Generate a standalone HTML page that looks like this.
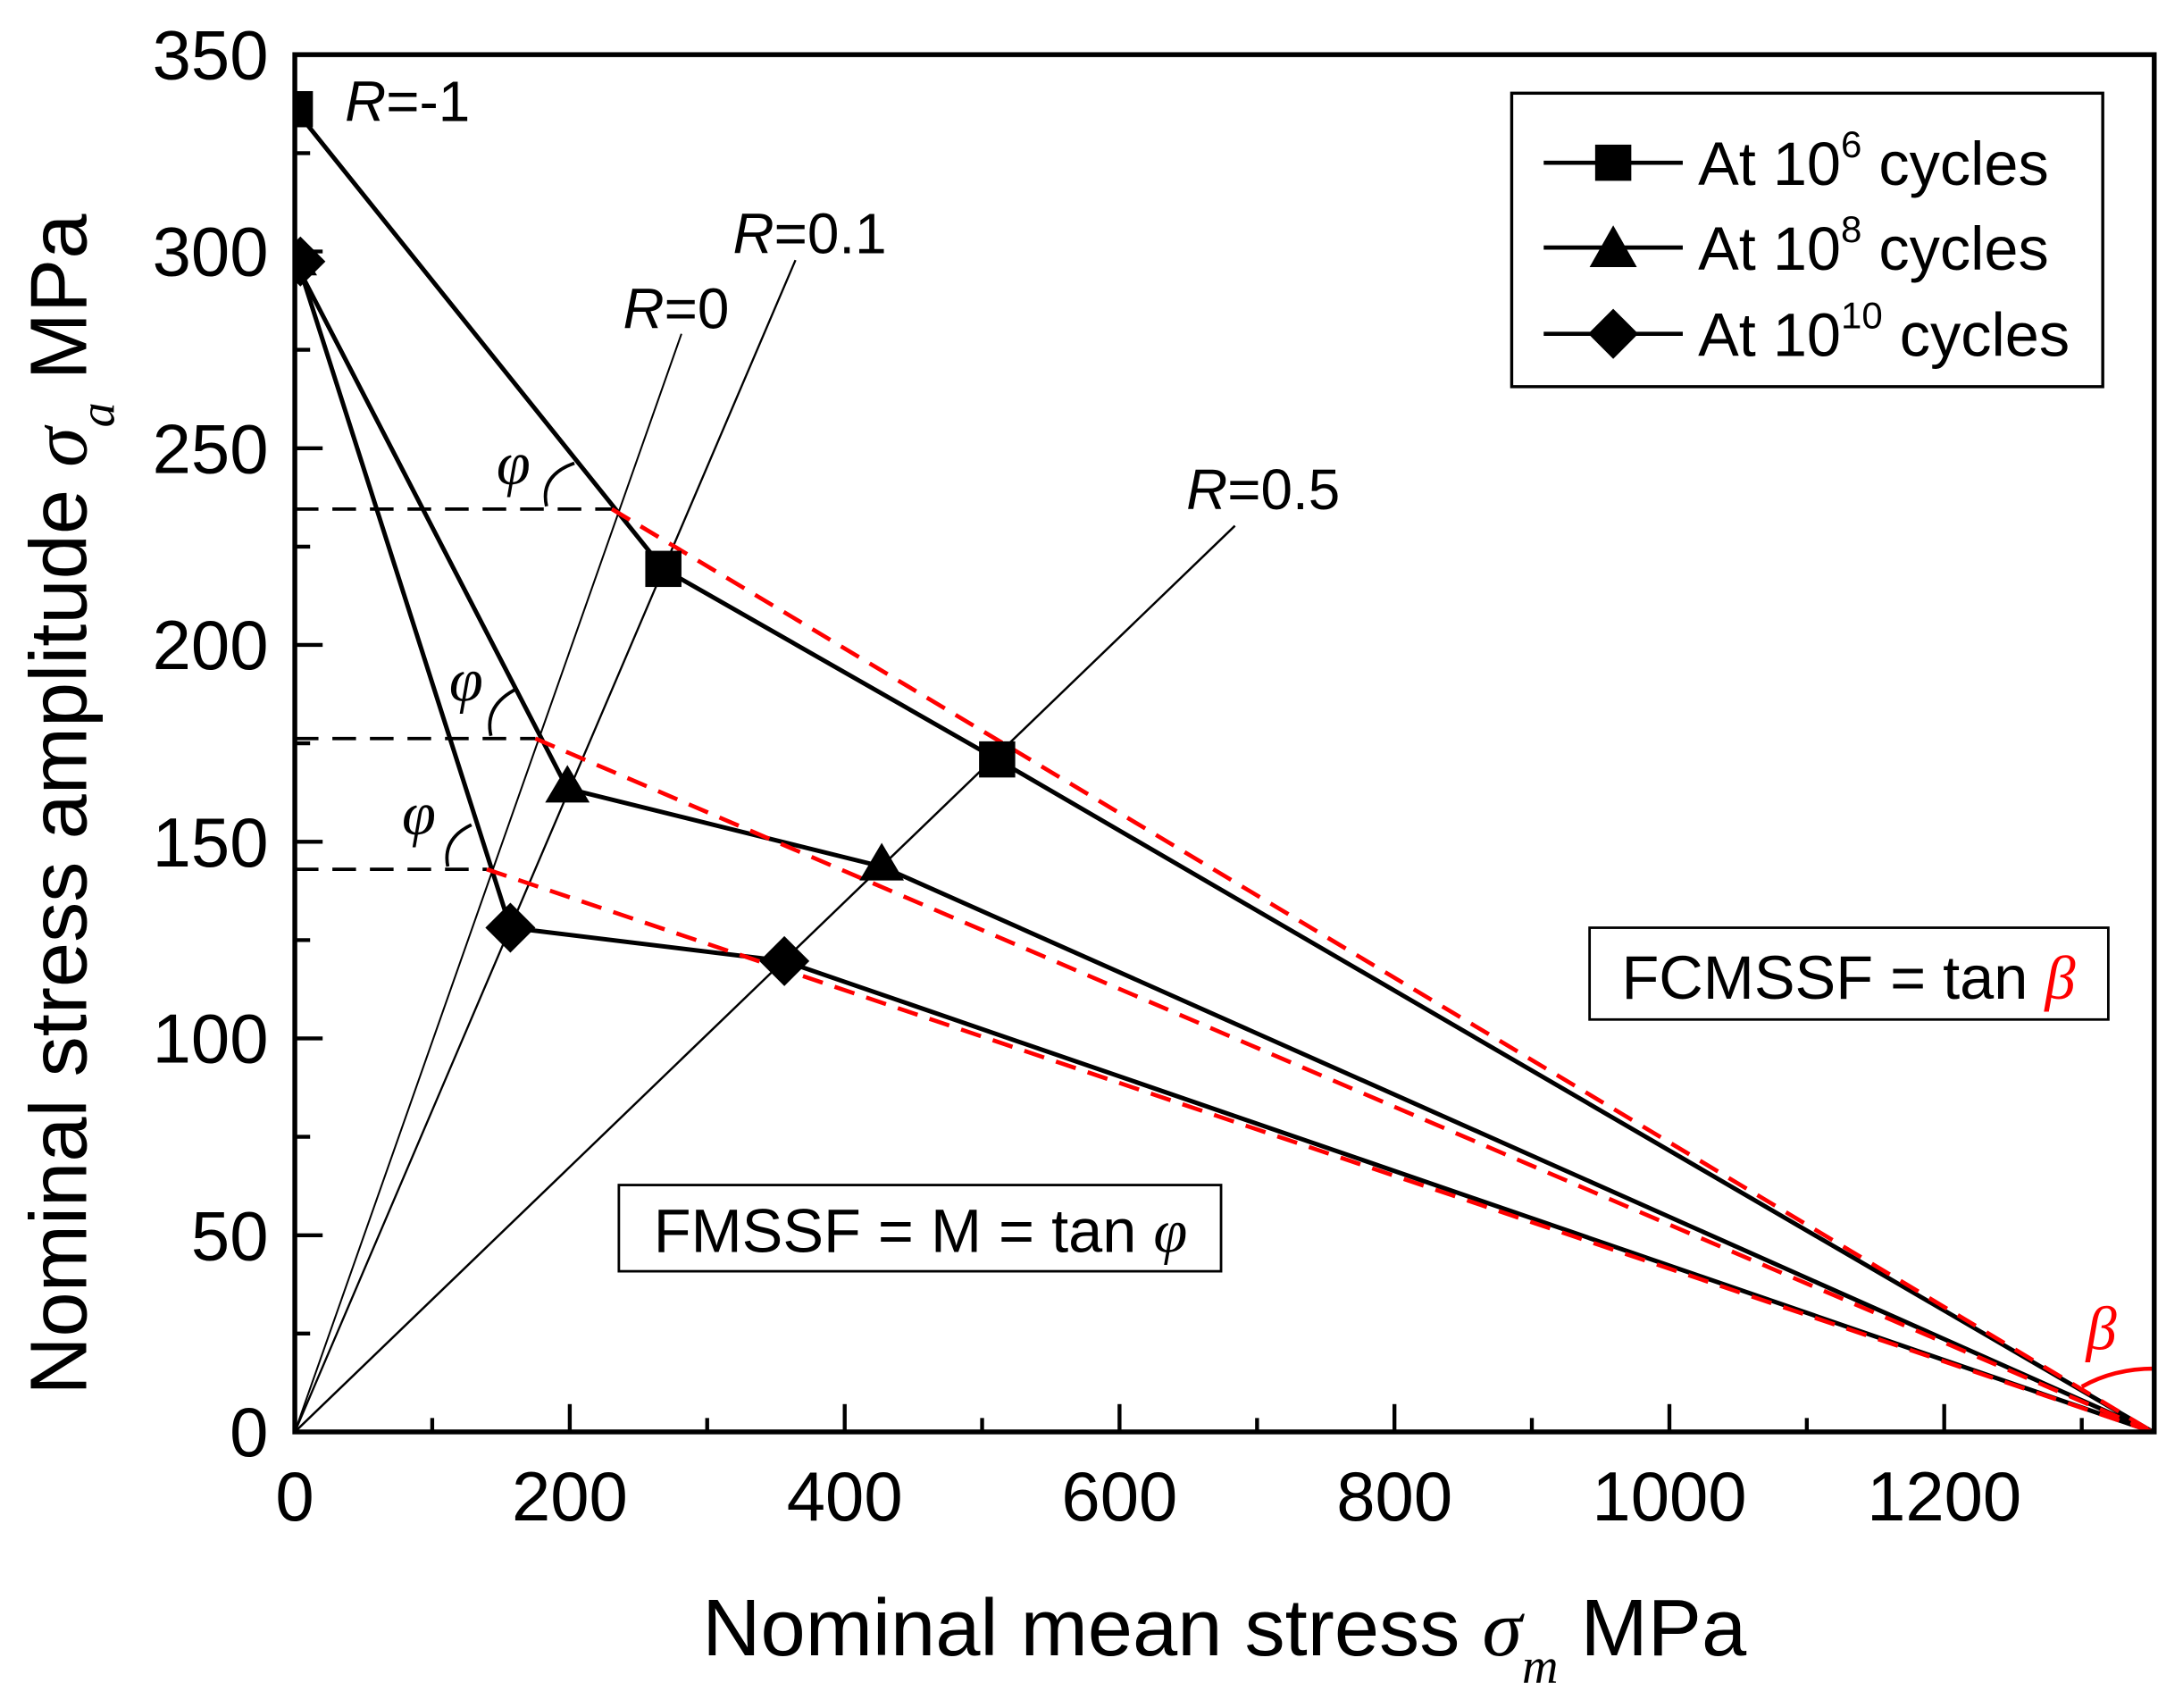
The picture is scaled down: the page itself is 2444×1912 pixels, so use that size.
<!DOCTYPE html>
<html><head><meta charset="utf-8"><style>html,body{margin:0;padding:0;background:#fff}svg{display:block}</style></head>
<body>
<svg width="2444" height="1912" viewBox="0 0 1569.7 1228" preserveAspectRatio="none" xmlns="http://www.w3.org/2000/svg" font-family="Liberation Sans, Arial, sans-serif">
<defs><clipPath id="c"><rect x="212" y="39.3" width="1337" height="990.2"/></clipPath></defs>
<rect width="1569.7" height="1228" fill="#fff"/>
<g clip-path="url(#c)">
<g stroke="#000" fill="none">
<line x1="212" y1="1029.5" x2="490" y2="240" stroke-width="1.3"/>
<line x1="212" y1="1029.5" x2="572" y2="187" stroke-width="1.5"/>
<line x1="212" y1="1029.5" x2="888" y2="378" stroke-width="1.6"/>
</g>
<g stroke="#000" stroke-width="2.4" stroke-dasharray="17,10" fill="none">
<line x1="212" y1="366" x2="440" y2="366"/>
<line x1="212" y1="531" x2="385" y2="531"/>
<line x1="212" y1="625" x2="350" y2="625"/>
</g>
<g stroke="#000" stroke-width="3.2" fill="none" stroke-linejoin="round">
<polyline points="212,78.5 477,409 717,546 1548,1029.5"/>
<polyline points="212,188 408,567 634,623 1548,1029.5"/>
<polyline points="214,188 367,667 564,691 1548,1029.5"/>
</g>
<g stroke="#f00" stroke-width="3" stroke-dasharray="15,9" fill="none">
<line x1="440" y1="366" x2="1548" y2="1029.5"/>
<line x1="385" y1="531" x2="1548" y2="1029.5"/>
<line x1="350" y1="625" x2="1548" y2="1029.5"/>
</g>
<g fill="#000">
<rect x="199" y="65.5" width="26" height="26"/>
<rect x="464" y="396" width="26" height="26"/>
<rect x="704" y="533" width="26" height="26"/>
<polygon points="212,171 228,198 196,198"/>
<polygon points="408,550 424,577 392,577"/>
<polygon points="634,606 650,633 618,633"/>
<polygon points="216,170 234,188 216,206 198,188"/>
<polygon points="367,649 385,667 367,685 349,667"/>
<polygon points="564,673 582,691 564,709 546,691"/>
</g>
<path d="M1497,997 Q1520,984 1549,984" stroke="#f00" stroke-width="3" fill="none"/>
</g>
<rect x="212" y="39.3" width="1337" height="990.2" fill="none" stroke="#000" stroke-width="3.5"/>
<g stroke="#000" stroke-width="2.8">
<line x1="409.7" y1="1029.5" x2="409.7" y2="1009.5"/><line x1="607.4" y1="1029.5" x2="607.4" y2="1009.5"/><line x1="805" y1="1029.5" x2="805" y2="1009.5"/><line x1="1002.7" y1="1029.5" x2="1002.7" y2="1009.5"/><line x1="1200.4" y1="1029.5" x2="1200.4" y2="1009.5"/><line x1="1398" y1="1029.5" x2="1398" y2="1009.5"/>
<line x1="310.8" y1="1029.5" x2="310.8" y2="1019.5"/><line x1="508.5" y1="1029.5" x2="508.5" y2="1019.5"/><line x1="706.2" y1="1029.5" x2="706.2" y2="1019.5"/><line x1="903.9" y1="1029.5" x2="903.9" y2="1019.5"/><line x1="1101.5" y1="1029.5" x2="1101.5" y2="1019.5"/><line x1="1299.2" y1="1029.5" x2="1299.2" y2="1019.5"/><line x1="1496.9" y1="1029.5" x2="1496.9" y2="1019.5"/>
<line x1="212" y1="888.1" x2="232" y2="888.1"/><line x1="212" y1="746.6" x2="232" y2="746.6"/><line x1="212" y1="605.2" x2="232" y2="605.2"/><line x1="212" y1="463.7" x2="232" y2="463.7"/><line x1="212" y1="322.3" x2="232" y2="322.3"/><line x1="212" y1="180.8" x2="232" y2="180.8"/>
<line x1="212" y1="958.8" x2="223" y2="958.8"/><line x1="212" y1="817.3" x2="223" y2="817.3"/><line x1="212" y1="675.9" x2="223" y2="675.9"/><line x1="212" y1="534.4" x2="223" y2="534.4"/><line x1="212" y1="393" x2="223" y2="393"/><line x1="212" y1="251.5" x2="223" y2="251.5"/><line x1="212" y1="110.1" x2="223" y2="110.1"/>
</g>
<g font-size="50" fill="#000" text-anchor="middle">
<text x="212" y="1093">0</text><text x="409.7" y="1093">200</text><text x="607.4" y="1093">400</text><text x="805" y="1093">600</text><text x="1002.7" y="1093">800</text><text x="1200.4" y="1093">1000</text><text x="1398" y="1093">1200</text>
</g>
<g font-size="50" fill="#000" text-anchor="end">
<text x="193" y="1047">0</text><text x="193" y="906">50</text><text x="193" y="764">100</text><text x="193" y="623">150</text><text x="193" y="481">200</text><text x="193" y="340">250</text><text x="193" y="198">300</text><text x="193" y="57">350</text>
</g>
<text x="505" y="1190" font-size="58" fill="#000">Nominal mean stress <tspan font-family="Liberation Serif, serif" font-style="italic">σ</tspan><tspan font-size="36" font-family="Liberation Serif, serif" font-style="italic" dy="20">m</tspan><tspan dy="-20"> MPa</tspan></text>
<text transform="translate(62,1003) rotate(-90)" font-size="58" fill="#000">Nominal stress amplitude <tspan font-family="Liberation Serif, serif" font-style="italic">σ</tspan><tspan font-size="36" font-family="Liberation Serif, serif" font-style="italic" dy="20">a</tspan><tspan dy="-20"> MPa</tspan></text>
<g font-size="41" fill="#000">
<text x="248" y="87"><tspan font-style="italic">R</tspan>=-1</text>
<text x="448" y="236"><tspan font-style="italic">R</tspan>=0</text>
<text x="527" y="182"><tspan font-style="italic">R</tspan>=0.1</text>
<text x="853" y="366"><tspan font-style="italic">R</tspan>=0.5</text>
</g>
<g font-family="Liberation Serif, serif" font-style="italic" font-size="44" fill="#000">
<text x="357" y="348">φ</text><text x="323" y="504">φ</text><text x="289" y="600">φ</text>
</g>
<g stroke="#000" stroke-width="2.4" fill="none">
<path d="M393,364 Q388,342 413,333"/>
<path d="M353,529 Q348,507 372,495"/>
<path d="M322,623 Q318,603 339,593"/>
</g>
<text x="1500" y="970" font-family="Liberation Serif, serif" font-style="italic" font-size="44" fill="#f00">β</text>
<rect x="1087" y="67" width="425" height="211" fill="#fff" stroke="#000" stroke-width="2.2"/>
<g stroke="#000" stroke-width="3">
<line x1="1110" y1="117" x2="1210" y2="117"/><line x1="1110" y1="178" x2="1210" y2="178"/><line x1="1110" y1="240" x2="1210" y2="240"/>
</g>
<rect x="1147" y="104" width="26" height="26" fill="#000"/>
<polygon points="1160,162 1177,192 1143,192" fill="#000"/>
<polygon points="1160,222 1178,240 1160,258 1142,240" fill="#000"/>
<g font-size="44" fill="#000">
<text x="1221" y="133">At 10<tspan font-size="27" dy="-20">6</tspan><tspan dy="20"> cycles</tspan></text>
<text x="1221" y="194">At 10<tspan font-size="27" dy="-20">8</tspan><tspan dy="20"> cycles</tspan></text>
<text x="1221" y="256">At 10<tspan font-size="27" dy="-20">10</tspan><tspan dy="20"> cycles</tspan></text>
</g>
<rect x="1143" y="667" width="373" height="66" fill="#fff" stroke="#000" stroke-width="1.8"/>
<text x="1166" y="718" font-size="44" fill="#000">FCMSSF = tan <tspan font-family="Liberation Serif, serif" font-style="italic" fill="#f00">β</tspan></text>
<rect x="445" y="852" width="433" height="62" fill="#fff" stroke="#000" stroke-width="1.8"/>
<text x="470" y="900" font-size="44" fill="#000">FMSSF = M = tan <tspan font-family="Liberation Serif, serif" font-style="italic">φ</tspan></text>
</svg>
</body></html>
